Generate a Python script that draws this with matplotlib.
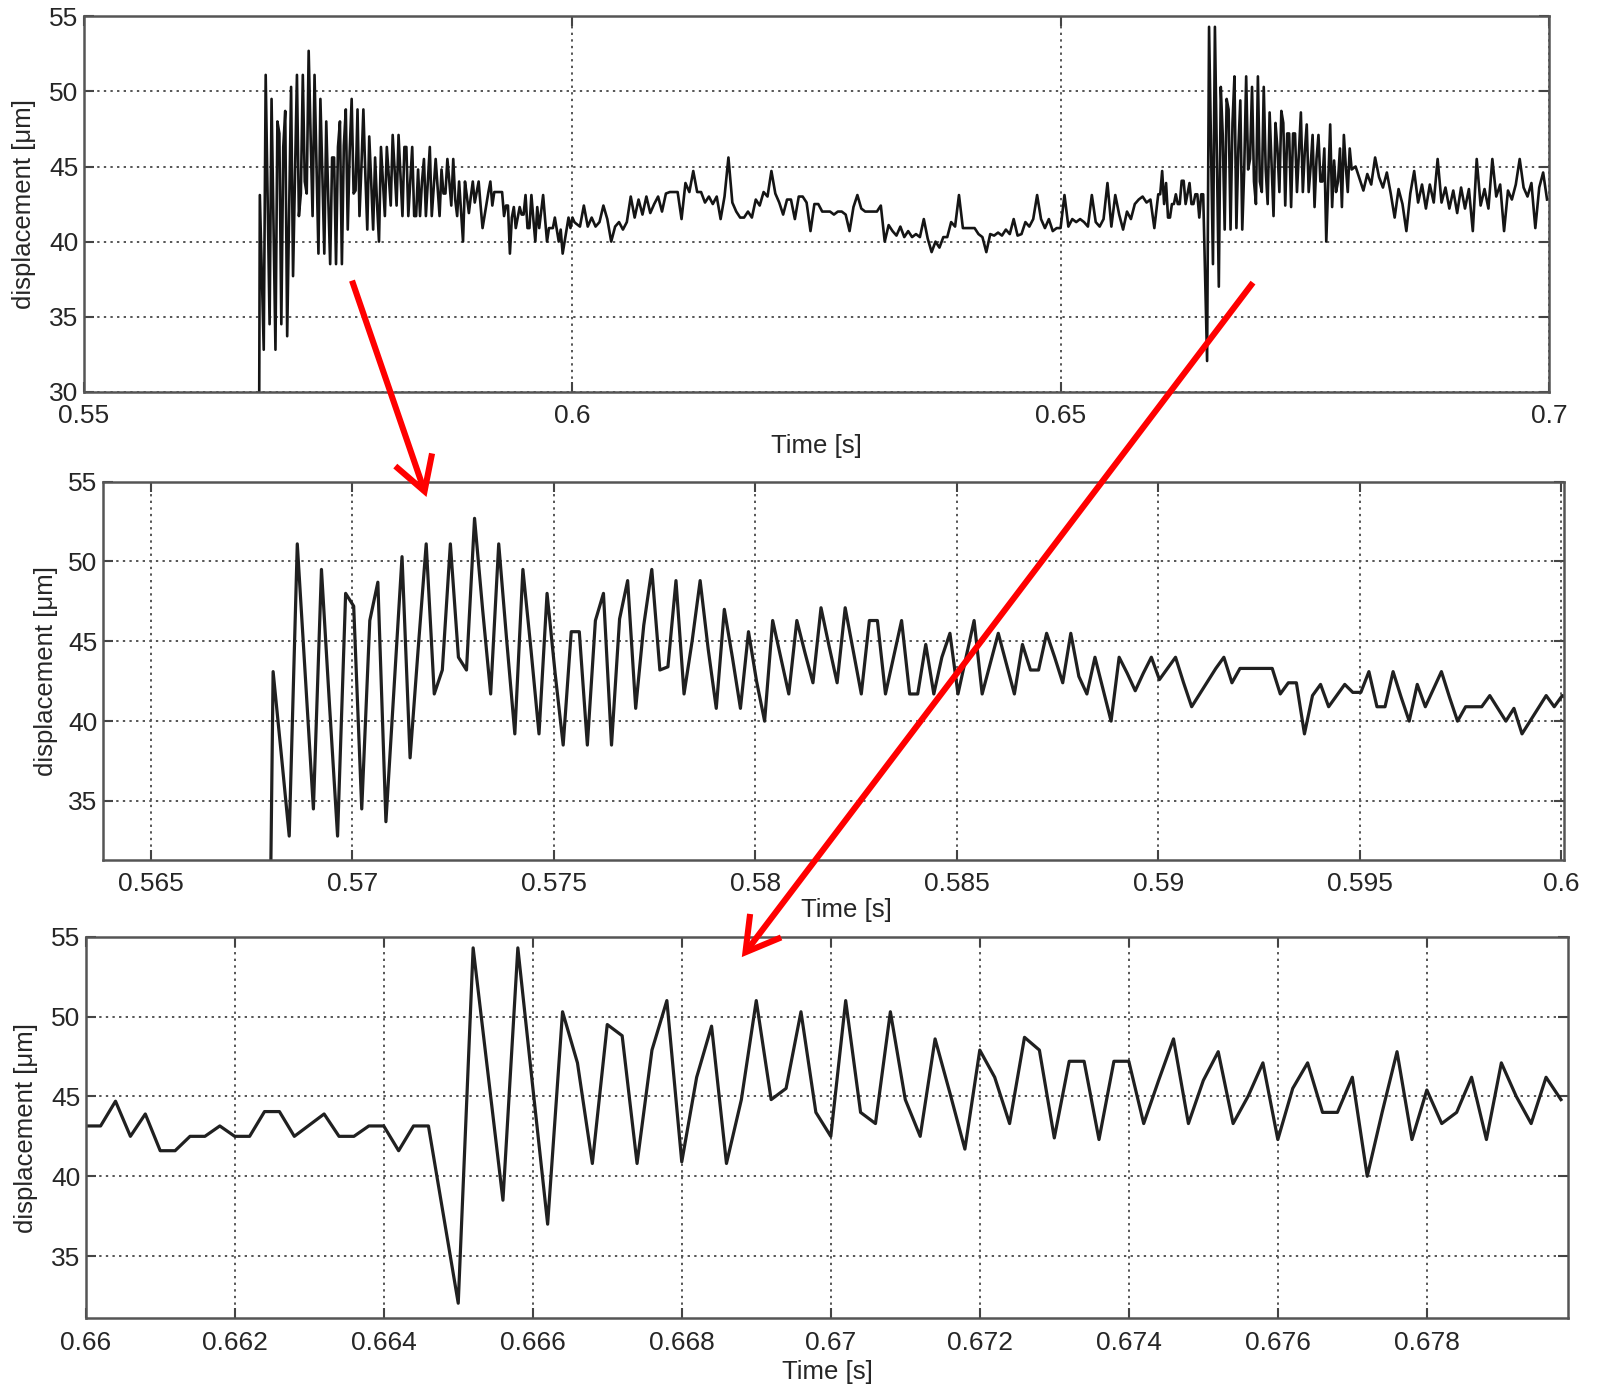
import numpy as np
import matplotlib
matplotlib.use("Agg")
import matplotlib.pyplot as plt
from matplotlib.patches import FancyArrowPatch
from matplotlib.ticker import FixedLocator, FixedFormatter

# ---------------- data ----------------
dt_fine = 0.0002      # sampling step of the zoomed traces [s]
dt_coarse = 0.0004    # step used for the read-off of the dense overview parts [s]

# first impact: 0.568 s ... 0.6002 s
burst1_start = 0.56803
pre_trigger_level = 0.0
burst1_values = [
    43.1, 38.0, 32.8, 51.1, 42.8, 34.5, 49.5, 41.0, 32.8, 48.0,
    47.2, 34.5, 46.3, 48.7, 33.7, 42.0, 50.3, 37.7, 44.5, 51.1,
    41.7, 43.2, 51.1, 44.0, 43.2, 52.7, 47.0, 41.7, 51.1, 45.0,
    39.2, 49.5, 44.5, 39.2, 48.0, 43.0, 38.5, 45.6, 45.6, 38.5,
    46.3, 48.0, 38.5, 46.4, 48.8, 40.8, 46.0, 49.5, 43.2, 43.4,
    48.8, 41.7, 45.0, 48.8, 44.5, 40.8, 47.0, 44.0, 40.8, 45.6,
    42.5, 40.0, 46.3, 44.0, 41.7, 46.3, 44.3, 42.4, 47.1, 44.7,
    42.4, 47.1, 44.4, 41.7, 46.3, 46.3, 41.7, 44.0, 46.3, 41.7,
    41.7, 44.8, 41.7, 44.0, 45.5, 41.7, 44.0, 46.3, 41.7, 43.6,
    45.5, 43.6, 41.7, 44.8, 43.2, 43.2, 45.5, 44.0, 42.4, 45.5,
    42.8, 41.7, 44.0, 42.0, 40.0, 44.0, 43.0, 41.9, 43.0, 44.0,
    42.6, 43.3, 44.0, 42.4, 40.9, 41.7, 42.5, 43.3, 44.0, 42.4,
    43.3, 43.3, 43.3, 43.3, 43.3, 41.7, 42.4, 42.4, 39.2, 41.6,
    42.3, 40.9, 41.6, 42.3, 41.8, 41.8, 43.1, 40.9, 40.9, 43.1,
    41.5, 40.0, 42.3, 40.9, 42.0, 43.1, 41.5, 40.0, 40.9, 40.9,
    40.9, 41.6, 40.8, 40.0, 40.8, 39.2, 40.0, 40.8, 41.6, 40.9,
    41.6, 41.3,
]

# quiet part between the impacts: 0.6004 s ... 0.6596 s
quiet_start = 0.6004
quiet_values = [
    41.2, 41.0, 42.4, 41.0, 41.6, 41.0, 41.3, 42.4, 41.5, 40.0,
    41.0, 41.3, 40.8, 41.3, 43.0, 41.6, 42.8, 41.8, 43.0, 41.9,
    42.5, 43.0, 42.0, 43.2, 43.3, 43.3, 43.3, 41.5, 43.9, 43.3,
    44.7, 43.3, 43.3, 42.6, 43.0, 42.5, 43.0, 41.5, 43.0, 45.6,
    42.6, 42.0, 41.6, 41.6, 42.0, 41.6, 42.8, 42.4, 43.3,
    43.0, 44.7, 43.2, 42.6, 41.8, 42.8, 42.8, 41.5, 43.0, 43.0,
    42.6, 40.7, 42.5, 42.5, 42.0, 42.0, 42.0, 41.8, 42.0, 42.0,
    41.8, 40.7, 42.3, 43.1, 42.2, 42.0, 42.0, 42.0, 42.0, 42.4,
    40.0, 41.1, 40.7, 40.4, 41.0, 40.3, 40.7, 40.3, 40.5, 40.3,
    41.5, 40.2, 39.3, 40.0, 39.6, 40.3, 40.3, 41.3, 41.0, 43.1,
    40.9, 40.9, 40.9, 40.9, 40.5, 40.3, 39.3, 40.5, 40.4, 40.6,
    40.4, 40.8, 40.5, 41.5, 40.4, 40.5, 41.3, 41.0, 41.5, 43.1,
    41.5, 40.9, 41.5, 40.7, 40.9, 40.9, 43.1, 41.0, 41.5, 41.3,
    41.5, 41.3, 41.0, 43.1, 41.3, 41.0, 41.5, 43.9, 41.0, 43.1,
    41.8, 40.8, 42.0, 41.5, 42.5, 42.8, 43.0, 42.6, 42.8, 40.9,
]

# second impact: 0.66 s ... 0.6798 s
burst2_start = 0.66
burst2_values = [
    43.15, 43.15, 44.7, 42.5, 43.9, 41.6, 41.6, 42.5, 42.5, 43.15,
    42.5, 42.5, 44.05, 44.05, 42.5, 43.2, 43.9, 42.5, 42.5, 43.15,
    43.15, 41.6, 43.15, 43.15, 37.6, 32.05, 54.3, 46.4, 38.5, 54.3,
    45.6, 37.0, 50.3, 47.1, 40.8, 49.5, 48.8, 40.8, 47.9, 51.0,
    40.9, 46.2, 49.4, 40.8, 44.8, 51.0, 44.8, 45.5, 50.3, 44.0,
    42.5, 51.0, 44.0, 43.3, 50.3, 44.8, 42.5, 48.6, 45.2, 41.7,
    47.9, 46.2, 43.3, 48.7, 47.9, 42.4, 47.2, 47.2, 42.3, 47.2,
    47.2, 43.3, 46.0, 48.6, 43.3, 46.0, 47.8, 43.3, 45.0, 47.1,
    42.3, 45.5, 47.1, 44.0, 44.0, 46.2, 40.0, 44.0, 47.8, 42.3,
    45.4, 43.3, 44.0, 46.2, 42.3, 47.1, 45.0, 43.3, 46.2, 44.8,
]

# tail after the second zoom window: 0.6802 s ... 0.6998 s
tail_start = 0.6802
tail_values = [
    45.0, 44.2, 43.4, 44.5, 43.8, 45.6, 44.3, 43.6, 44.6, 43.2,
    41.6, 43.5, 42.5, 40.7, 43.2, 44.7, 42.6, 43.8, 42.2, 43.8,
    42.6, 45.5, 42.6, 43.6, 42.2, 43.4, 41.9, 43.6, 42.2, 43.5,
    40.7, 45.5, 42.4, 43.5, 42.2, 45.5, 43.0, 43.8, 40.7, 43.4,
    42.8, 43.8, 45.5, 43.6, 43.0, 43.9, 40.9, 43.6, 44.6, 42.8,
]

top_xticks = [0.55, 0.6, 0.65, 0.7]
top_xticklabels = ["0.55", "0.6", "0.65", "0.7"]
top_yticks = [30, 35, 40, 45, 50, 55]
mid_xticks = [0.565, 0.57, 0.575, 0.58, 0.585, 0.59, 0.595, 0.6]
mid_xticklabels = ["0.565", "0.57", "0.575", "0.58", "0.585", "0.59", "0.595", "0.6"]
bot_xticks = [0.66, 0.662, 0.664, 0.666, 0.668, 0.67, 0.672, 0.674, 0.676, 0.678]
bot_xticklabels = ["0.66", "0.662", "0.664", "0.666", "0.668", "0.67", "0.672", "0.674", "0.676", "0.678"]
zoom_yticks = [35, 40, 45, 50, 55]

ylabel_text = "displacement [\u03bcm]"
xlabel_text = "Time [s]"

# ---------------- build series ----------------
b1 = np.asarray(burst1_values)
t_b1 = burst1_start + dt_fine * np.arange(b1.size)
t_b1 = np.concatenate([[burst1_start - dt_fine], t_b1])
b1 = np.concatenate([[pre_trigger_level], b1])

q = np.asarray(quiet_values)
t_q = quiet_start + dt_coarse * np.arange(q.size)
b2 = np.asarray(burst2_values)
t_b2 = burst2_start + dt_fine * np.arange(b2.size)
tl = np.asarray(tail_values)
t_tl = tail_start + dt_coarse * np.arange(tl.size)

t_all = np.concatenate([t_b1, t_q, t_b2, t_tl])
y_all = np.concatenate([b1, q, b2, tl])

# ---------------- figure ----------------
plt.rcParams['font.family'] = ['Liberation Sans', 'DejaVu Sans']
W, H = 1600, 1395
fig = plt.figure(figsize=(W / 100, H / 100), dpi=100)


def px_axes(left, top, right, bottom):
    return fig.add_axes([left / W, 1 - bottom / H, (right - left) / W, (bottom - top) / H])


text_col = '#262626'
line_col = '#151515'


def style(ax, xt, xtl, yt, xpad):
    ax.xaxis.set_major_locator(FixedLocator(xt))
    ax.xaxis.set_major_formatter(FixedFormatter(xtl))
    ax.yaxis.set_major_locator(FixedLocator(yt))
    ax.yaxis.set_major_formatter(FixedFormatter([str(v) for v in yt]))
    ax.grid(True, linestyle=(0, (1.2, 2.2)), color='#555555', linewidth=1.4)
    ax.tick_params(direction='in', length=7, width=1.5, top=True, right=True,
                   colors='#444444', labelcolor=text_col, labelsize=19)
    ax.tick_params(axis='x', pad=xpad)
    ax.tick_params(axis='y', pad=4)
    for s in ax.spines.values():
        s.set_color('#555555')
        s.set_linewidth(1.8)


# top overview
ax1 = px_axes(83.7, 16.3, 1549, 391.8)
ax1.plot(t_all, y_all, color=line_col, lw=1.9)
ax1.set_xlim(0.55, 0.7)
ax1.set_ylim(30, 55)
style(ax1, top_xticks, top_xticklabels, top_yticks, 9)
ax1.set_xlabel(xlabel_text, fontsize=18.5, color=text_col)
ax1.set_ylabel(ylabel_text, fontsize=18.5, color=text_col)
ax1.xaxis.set_label_coords(0.5, -0.112)
ax1.yaxis.set_label_coords(-0.0328, 0.5)

# middle zoom
ax2 = px_axes(103.1, 481.6, 1564.3, 860.2)
ax2.plot(t_b1, b1, color='#202020', lw=2.3)
ax2.set_xlim(0.56381, 0.60008)
ax2.set_ylim(31.29, 55)
style(ax2, mid_xticks, mid_xticklabels, zoom_yticks, 8.5)
ax2.set_xlabel(xlabel_text, fontsize=18.5, color=text_col)
ax2.set_ylabel(ylabel_text, fontsize=18.5, color=text_col)
ax2.xaxis.set_label_coords(0.509, -0.1)
ax2.yaxis.set_label_coords(-0.0309, 0.5)

# bottom zoom
ax3 = px_axes(85.7, 936.7, 1568.4, 1318.4)
ax3.plot(t_b2, b2, color='#202020', lw=2.3)
ax3.set_xlim(0.66, 0.6799)
ax3.set_ylim(31.1, 55)
style(ax3, bot_xticks, bot_xticklabels, zoom_yticks, 9)
ax3.set_xlabel(xlabel_text, fontsize=18.5, color=text_col)
ax3.set_ylabel(ylabel_text, fontsize=18.5, color=text_col)
ax3.xaxis.set_label_coords(0.5, -0.109)
ax3.yaxis.set_label_coords(-0.0325, 0.5)

# red arrows (figure pixel coordinates -> figure fraction)
def fig_pt(x, y):
    return (x / W, 1 - y / H)


for (xa, ya), (xb, yb) in [((352, 280.6), (426.5, 497)), ((1253, 282.6), (741.8, 957.1))]:
    arr = FancyArrowPatch(fig_pt(xa, ya), fig_pt(xb, yb), transform=fig.transFigure,
                          arrowstyle='->,head_length=0.6,head_width=0.35',
                          mutation_scale=40, lw=4.4, color='#ff0000',
                          shrinkA=0, shrinkB=0, capstyle='butt', joinstyle='miter')
    fig.add_artist(arr)

fig.savefig('out.png', dpi=100)
